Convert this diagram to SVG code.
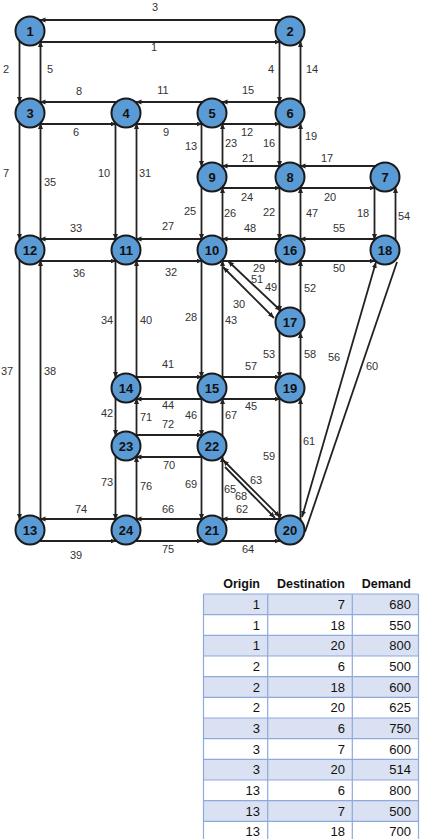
<svg xmlns="http://www.w3.org/2000/svg" width="429" height="839" viewBox="0 0 429 839">
<style>
.e{stroke:#222;stroke-width:1.8;fill:none}
.a{marker-end:url(#ah)}
.s{marker-start:url(#ahs)}
.n circle{fill:#5B9BD5;stroke:#1a1a1a;stroke-width:2}
.n text{font-family:"Liberation Sans",Arial,sans-serif;font-weight:bold;font-size:13px;fill:#111;text-anchor:middle}
.l{font-family:"Liberation Sans",Arial,sans-serif;font-size:11px;fill:#333;text-anchor:middle}
.th{font-family:"Liberation Sans",Arial,sans-serif;font-weight:bold;font-size:12.5px;fill:#111;text-anchor:end}
.td{font-family:"Liberation Sans",Arial,sans-serif;font-size:13px;fill:#111;text-anchor:end}
.sh{fill:#D9E1F2}
.bd{stroke:#8EA9DB;stroke-width:1.2;fill:none}
</style>
<defs>
<marker id="ah" markerUnits="userSpaceOnUse" markerWidth="7" markerHeight="6" refX="6" refY="2.5" orient="auto"><path d="M0,0 L6,2.5 L0,5 z" fill="#222"/></marker>
<marker id="ahs" markerUnits="userSpaceOnUse" markerWidth="7" markerHeight="6" refX="6" refY="2.5" orient="auto-start-reverse"><path d="M0,0 L6,2.5 L0,5 z" fill="#222"/></marker>
</defs>
<rect width="429" height="839" fill="#fff"/>
<g id="connectors">
<line class="e a" x1="280.5" y1="20" x2="39.5" y2="20"/>
<line class="e a" x1="39.5" y1="42" x2="280.5" y2="42"/>
<line class="e a" x1="116.5" y1="102" x2="39.5" y2="102"/>
<line class="e a" x1="39.5" y1="124" x2="116.5" y2="124"/>
<line class="e a" x1="202.5" y1="102" x2="135.5" y2="102"/>
<line class="e a" x1="135.5" y1="124" x2="202.5" y2="124"/>
<line class="e a" x1="280.5" y1="102" x2="221.5" y2="102"/>
<line class="e a" x1="221.5" y1="124" x2="280.5" y2="124"/>
<line class="e a" x1="280.5" y1="166" x2="221.5" y2="166"/>
<line class="e a" x1="221.5" y1="188" x2="280.5" y2="188"/>
<line class="e a" x1="375.5" y1="166" x2="299.5" y2="166"/>
<line class="e a" x1="299.5" y1="188" x2="375.5" y2="188"/>
<line class="e a" x1="116.5" y1="239" x2="39.5" y2="239"/>
<line class="e a" x1="39.5" y1="261" x2="116.5" y2="261"/>
<line class="e a" x1="202.5" y1="239" x2="135.5" y2="239"/>
<line class="e a" x1="135.5" y1="261" x2="202.5" y2="261"/>
<line class="e a" x1="280.5" y1="239" x2="221.5" y2="239"/>
<line class="e a" x1="221.5" y1="261" x2="280.5" y2="261"/>
<line class="e a" x1="375.5" y1="239" x2="299.5" y2="239"/>
<line class="e a" x1="299.5" y1="261" x2="375.5" y2="261"/>
<line class="e a" x1="135.5" y1="377" x2="202.5" y2="377"/>
<line class="e a" x1="202.5" y1="399" x2="135.5" y2="399"/>
<line class="e a" x1="221.5" y1="377" x2="280.5" y2="377"/>
<line class="e a" x1="221.5" y1="399" x2="280.5" y2="399"/>
<line class="e a" x1="135.5" y1="435" x2="202.5" y2="435"/>
<line class="e a" x1="202.5" y1="457" x2="135.5" y2="457"/>
<line class="e a" x1="116.5" y1="519" x2="39.5" y2="519"/>
<line class="e a" x1="39.5" y1="541" x2="116.5" y2="541"/>
<line class="e a" x1="202.5" y1="519" x2="135.5" y2="519"/>
<line class="e a" x1="135.5" y1="541" x2="202.5" y2="541"/>
<line class="e a" x1="280.5" y1="519" x2="221.5" y2="519"/>
<line class="e a" x1="221.5" y1="541" x2="280.5" y2="541"/>
<line class="e a" x1="19.5" y1="41" x2="19.5" y2="103"/>
<line class="e a" x1="40.5" y1="103" x2="40.5" y2="41"/>
<line class="e a" x1="279.5" y1="41" x2="279.5" y2="103"/>
<line class="e a" x1="300.5" y1="103" x2="300.5" y2="41"/>
<line class="e a" x1="19.5" y1="123" x2="19.5" y2="240"/>
<line class="e a" x1="40.5" y1="240" x2="40.5" y2="123"/>
<line class="e a" x1="115.5" y1="123" x2="115.5" y2="240"/>
<line class="e a" x1="136.5" y1="240" x2="136.5" y2="123"/>
<line class="e a" x1="201.5" y1="123" x2="201.5" y2="167"/>
<line class="e a" x1="222.5" y1="167" x2="222.5" y2="123"/>
<line class="e a" x1="279.5" y1="123" x2="279.5" y2="167"/>
<line class="e a" x1="300.5" y1="167" x2="300.5" y2="123"/>
<line class="e a" x1="201.5" y1="187" x2="201.5" y2="240"/>
<line class="e a" x1="222.5" y1="240" x2="222.5" y2="187"/>
<line class="e a" x1="279.5" y1="187" x2="279.5" y2="240"/>
<line class="e a" x1="300.5" y1="240" x2="300.5" y2="187"/>
<line class="e a" x1="374.5" y1="187" x2="374.5" y2="240"/>
<line class="e a" x1="395.5" y1="240" x2="395.5" y2="187"/>
<line class="e a" x1="19.5" y1="260" x2="19.5" y2="520"/>
<line class="e a" x1="40.5" y1="520" x2="40.5" y2="260"/>
<line class="e a" x1="115.5" y1="260" x2="115.5" y2="378"/>
<line class="e a" x1="136.5" y1="378" x2="136.5" y2="260"/>
<line class="e a" x1="201.5" y1="260" x2="201.5" y2="378"/>
<line class="e a" x1="222.5" y1="378" x2="222.5" y2="260"/>
<line class="e a" x1="279.5" y1="260" x2="279.5" y2="312"/>
<line class="e a" x1="300.5" y1="312" x2="300.5" y2="260"/>
<line class="e a" x1="279.5" y1="332" x2="279.5" y2="378"/>
<line class="e a" x1="300.5" y1="378" x2="300.5" y2="332"/>
<line class="e a" x1="115.5" y1="398" x2="115.5" y2="436"/>
<line class="e a" x1="136.5" y1="436" x2="136.5" y2="398"/>
<line class="e a" x1="201.5" y1="398" x2="201.5" y2="436"/>
<line class="e a" x1="222.5" y1="436" x2="222.5" y2="398"/>
<line class="e a" x1="115.5" y1="456" x2="115.5" y2="520"/>
<line class="e a" x1="136.5" y1="520" x2="136.5" y2="456"/>
<line class="e a" x1="201.5" y1="456" x2="201.5" y2="520"/>
<line class="e a" x1="222.5" y1="520" x2="222.5" y2="456"/>
<line class="e a" x1="279.5" y1="398" x2="279.5" y2="520"/>
<line class="e a" x1="300.5" y1="520" x2="300.5" y2="398"/>
<line class="e a s" x1="228" y1="261" x2="281" y2="311"/>
<line class="e a s" x1="223" y1="267" x2="274" y2="318"/>
<line class="e a s" x1="223" y1="460" x2="280" y2="517"/>
<line class="e a" x1="225" y1="467" x2="275" y2="518"/>
<line class="e a s" x1="302" y1="517" x2="376" y2="262"/>
<line class="e" x1="305" y1="532" x2="397" y2="262"/>
</g>
<g id="link-labels">
<text class="l" x="155" y="11">3</text>
<text class="l" x="154" y="51">1</text>
<text class="l" x="6" y="73">2</text>
<text class="l" x="50" y="73">5</text>
<text class="l" x="79" y="95">8</text>
<text class="l" x="163" y="94">11</text>
<text class="l" x="76" y="136">6</text>
<text class="l" x="166" y="136">9</text>
<text class="l" x="191" y="150">13</text>
<text class="l" x="6" y="177">7</text>
<text class="l" x="50" y="186">35</text>
<text class="l" x="104" y="177">10</text>
<text class="l" x="145" y="177">31</text>
<text class="l" x="271" y="73">4</text>
<text class="l" x="312" y="73">14</text>
<text class="l" x="248" y="94">15</text>
<text class="l" x="247" y="136">12</text>
<text class="l" x="231" y="147">23</text>
<text class="l" x="269" y="147">16</text>
<text class="l" x="311" y="140">19</text>
<text class="l" x="248" y="162">21</text>
<text class="l" x="327" y="162">17</text>
<text class="l" x="247" y="201">24</text>
<text class="l" x="330" y="201">20</text>
<text class="l" x="190" y="215">25</text>
<text class="l" x="76" y="232">33</text>
<text class="l" x="168" y="230">27</text>
<text class="l" x="79" y="277">36</text>
<text class="l" x="171" y="276">32</text>
<text class="l" x="107" y="324">34</text>
<text class="l" x="146" y="324">40</text>
<text class="l" x="191" y="321">28</text>
<text class="l" x="7" y="375">37</text>
<text class="l" x="50" y="375">38</text>
<text class="l" x="168" y="368">41</text>
<text class="l" x="230" y="217">26</text>
<text class="l" x="269" y="216">22</text>
<text class="l" x="312" y="217">47</text>
<text class="l" x="363" y="217">18</text>
<text class="l" x="404" y="220">54</text>
<text class="l" x="250" y="232">48</text>
<text class="l" x="339" y="232">55</text>
<text class="l" x="259" y="272">29</text>
<text class="l" x="339" y="272">50</text>
<text class="l" x="257" y="283">51</text>
<text class="l" x="271" y="291">49</text>
<text class="l" x="310" y="292">52</text>
<text class="l" x="239" y="308">30</text>
<text class="l" x="231" y="324">43</text>
<text class="l" x="269" y="358">53</text>
<text class="l" x="310" y="358">58</text>
<text class="l" x="334" y="361">56</text>
<text class="l" x="251" y="370">57</text>
<text class="l" x="372" y="370">60</text>
<text class="l" x="168" y="409">44</text>
<text class="l" x="107" y="417">42</text>
<text class="l" x="146" y="421">71</text>
<text class="l" x="191" y="419">46</text>
<text class="l" x="168" y="428">72</text>
<text class="l" x="169" y="469">70</text>
<text class="l" x="107" y="486">73</text>
<text class="l" x="146" y="490">76</text>
<text class="l" x="191" y="488">69</text>
<text class="l" x="81" y="513">74</text>
<text class="l" x="168" y="513">66</text>
<text class="l" x="76" y="559">39</text>
<text class="l" x="168" y="553">75</text>
<text class="l" x="251" y="410">45</text>
<text class="l" x="231" y="419">67</text>
<text class="l" x="309" y="445">61</text>
<text class="l" x="269" y="460">59</text>
<text class="l" x="256" y="484">63</text>
<text class="l" x="230" y="493">65</text>
<text class="l" x="241" y="500">68</text>
<text class="l" x="242" y="513">62</text>
<text class="l" x="248" y="553">64</text>
</g>
<g id="node1" class="n"><circle cx="30" cy="31" r="14.5"/><text x="30" y="35.5">1</text></g>
<g id="node2" class="n"><circle cx="290" cy="31" r="14.5"/><text x="290" y="35.5">2</text></g>
<g id="node3" class="n"><circle cx="30" cy="113" r="14.5"/><text x="30" y="117.5">3</text></g>
<g id="node4" class="n"><circle cx="126" cy="113" r="14.5"/><text x="126" y="117.5">4</text></g>
<g id="node5" class="n"><circle cx="212" cy="113" r="14.5"/><text x="212" y="117.5">5</text></g>
<g id="node6" class="n"><circle cx="290" cy="113" r="14.5"/><text x="290" y="117.5">6</text></g>
<g id="node7" class="n"><circle cx="385" cy="177" r="14.5"/><text x="385" y="181.5">7</text></g>
<g id="node8" class="n"><circle cx="290" cy="177" r="14.5"/><text x="290" y="181.5">8</text></g>
<g id="node9" class="n"><circle cx="212" cy="177" r="14.5"/><text x="212" y="181.5">9</text></g>
<g id="node10" class="n"><circle cx="212" cy="250" r="14.5"/><text x="212" y="254.5">10</text></g>
<g id="node11" class="n"><circle cx="126" cy="250" r="14.5"/><text x="126" y="254.5">11</text></g>
<g id="node12" class="n"><circle cx="30" cy="250" r="14.5"/><text x="30" y="254.5">12</text></g>
<g id="node13" class="n"><circle cx="30" cy="530" r="14.5"/><text x="30" y="534.5">13</text></g>
<g id="node14" class="n"><circle cx="126" cy="388" r="14.5"/><text x="126" y="392.5">14</text></g>
<g id="node15" class="n"><circle cx="212" cy="388" r="14.5"/><text x="212" y="392.5">15</text></g>
<g id="node16" class="n"><circle cx="290" cy="250" r="14.5"/><text x="290" y="254.5">16</text></g>
<g id="node17" class="n"><circle cx="290" cy="322" r="14.5"/><text x="290" y="326.5">17</text></g>
<g id="node18" class="n"><circle cx="385" cy="250" r="14.5"/><text x="385" y="254.5">18</text></g>
<g id="node19" class="n"><circle cx="290" cy="388" r="14.5"/><text x="290" y="392.5">19</text></g>
<g id="node20" class="n"><circle cx="290" cy="530" r="14.5"/><text x="290" y="534.5">20</text></g>
<g id="node21" class="n"><circle cx="212" cy="530" r="14.5"/><text x="212" y="534.5">21</text></g>
<g id="node22" class="n"><circle cx="212" cy="446" r="14.5"/><text x="212" y="450.5">22</text></g>
<g id="node23" class="n"><circle cx="126" cy="446" r="14.5"/><text x="126" y="450.5">23</text></g>
<g id="node24" class="n"><circle cx="126" cy="530" r="14.5"/><text x="126" y="534.5">24</text></g>
<g id="table">
<text class="th" x="260" y="588">Origin</text>
<text class="th" x="345" y="588">Destination</text>
<text class="th" x="411" y="588">Demand</text>
<rect class="sh" x="203.5" y="594" width="215" height="20.7"/>
<rect class="sh" x="203.5" y="635.3" width="215" height="20.7"/>
<rect class="sh" x="203.5" y="676.7" width="215" height="20.7"/>
<rect class="sh" x="203.5" y="718" width="215" height="20.7"/>
<rect class="sh" x="203.5" y="759.3" width="215" height="20.7"/>
<rect class="sh" x="203.5" y="800.7" width="215" height="20.7"/>
<path class="bd" d="M203.5,594 H418.5 M203.5,614.7 H418.5 M203.5,635.3 H418.5 M203.5,656 H418.5 M203.5,676.7 H418.5 M203.5,697.3 H418.5 M203.5,718 H418.5 M203.5,738.7 H418.5 M203.5,759.3 H418.5 M203.5,780 H418.5 M203.5,800.7 H418.5 M203.5,821.3 H418.5 M203.5,842 H418.5 M203.5,594 V842 M267.7,594 V842 M352.3,594 V842 M418.5,594 V842"/>
<text class="td" x="260" y="609">1</text><text class="td" x="345" y="609">7</text><text class="td" x="411" y="609">680</text>
<text class="td" x="260" y="629.7">1</text><text class="td" x="345" y="629.7">18</text><text class="td" x="411" y="629.7">550</text>
<text class="td" x="260" y="650.3">1</text><text class="td" x="345" y="650.3">20</text><text class="td" x="411" y="650.3">800</text>
<text class="td" x="260" y="671">2</text><text class="td" x="345" y="671">6</text><text class="td" x="411" y="671">500</text>
<text class="td" x="260" y="691.7">2</text><text class="td" x="345" y="691.7">18</text><text class="td" x="411" y="691.7">600</text>
<text class="td" x="260" y="712.3">2</text><text class="td" x="345" y="712.3">20</text><text class="td" x="411" y="712.3">625</text>
<text class="td" x="260" y="733">3</text><text class="td" x="345" y="733">6</text><text class="td" x="411" y="733">750</text>
<text class="td" x="260" y="753.7">3</text><text class="td" x="345" y="753.7">7</text><text class="td" x="411" y="753.7">600</text>
<text class="td" x="260" y="774.3">3</text><text class="td" x="345" y="774.3">20</text><text class="td" x="411" y="774.3">514</text>
<text class="td" x="260" y="795">13</text><text class="td" x="345" y="795">6</text><text class="td" x="411" y="795">800</text>
<text class="td" x="260" y="815.7">13</text><text class="td" x="345" y="815.7">7</text><text class="td" x="411" y="815.7">500</text>
<text class="td" x="260" y="836.3">13</text><text class="td" x="345" y="836.3">18</text><text class="td" x="411" y="836.3">700</text>
</g>
</svg>
